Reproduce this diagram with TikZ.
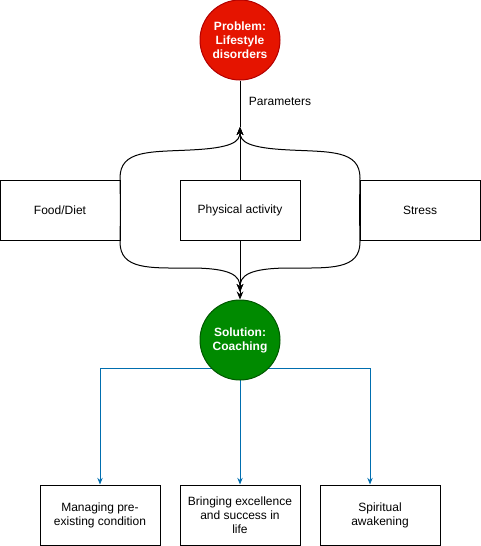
\documentclass[tikz,border=0pt]{standalone}
\usepackage{fontspec}
\setmainfont{Liberation Sans}
\usetikzlibrary{arrows.meta,backgrounds}
\definecolor{probred}{HTML}{E51400}
\definecolor{probedge}{HTML}{B20000}
\definecolor{solgreen}{HTML}{008A00}
\definecolor{soledge}{HTML}{005700}
\definecolor{linkblue}{HTML}{006EAF}
\tikzset{
  box/.style={draw, line width=0.75pt, minimum width=90pt, minimum height=45pt,
    inner sep=2pt, align=center, font=\fontsize{9}{10.5}\selectfont},
  disc/.style={circle, line width=0.75pt, minimum size=60pt, inner sep=0pt,
    align=center, text=white, font=\fontsize{9}{10.5}\selectfont\bfseries},
  arr/.style={line width=0.75pt, -{Stealth[length=6pt,width=5pt]}},
  bluearr/.style={linkblue, line width=0.75pt, -{Stealth[length=5pt,width=4pt]}}
}
\begin{document}
\begin{tikzpicture}[x=0.75pt,y=-0.75pt]
\useasboundingbox (0,0) rectangle (481,546);

%PROBLEM
  \node (prob) at (240,40) [disc, fill=probred, draw=probedge] {Problem:\\Lifestyle\\disorders};
  \coordinate (param) at (240,127);
  \draw[line width=0.75pt] (prob.south) -- (param);
  \node (plabel) at (280,101) [font=\fontsize{9}{10.5}\selectfont] {Parameters};

%PARAMETERS
  \node (food) at (60,210) [box] {Food/Diet};
  \node (phys) at (240,210) [box] {Physical activity};
  \node (stress) at (420,210) [box] {Stress};

%SOLUTION
  \node (sol) at (240,340) [disc, fill=solgreen, draw=soledge] {Solution:\\Coaching};
  \coordinate (merge) at (240,292);

  \draw[arr] (phys.north) -- (param);
  \draw[arr] (phys.south) -- (sol.north);
  \draw[arr] (food.east) -- (120,178) .. controls (120,150) and (150,152) .. (190,150) .. controls (232,148) and (240,142) .. (param);
  \draw[arr] (stress.west) -- (360,178) .. controls (360,150) and (330,152) .. (290,150) .. controls (248,148) and (240,142) .. (param);
  \draw[arr] (food.east) -- (120,242) .. controls (120,270) and (150,268) .. (190,268) .. controls (232,268) and (240,276) .. (merge);
  \draw[arr] (stress.west) -- (360,242) .. controls (360,270) and (330,268) .. (290,268) .. controls (248,268) and (240,276) .. (merge);

%OUTCOMES
  \node (manage) at (100,515) [box] {Managing pre-\\existing condition};
  \node (bring) at (240,515) [box] {Bringing excellence\\and success in\\life};
  \node (spirit) at (380,515) [box] {Spiritual\\awakening};
  \coordinate (split) at (240,368);

\begin{scope}[on background layer]
  \draw[bluearr] (sol.center) -- (split) -| (manage.north);
  \draw[bluearr] (sol.center) -- (bring.north);
  \draw[bluearr] (sol.center) -- (split) -| ([xshift=-7.5pt]spirit.north);
\end{scope}
\end{tikzpicture}
\end{document}
